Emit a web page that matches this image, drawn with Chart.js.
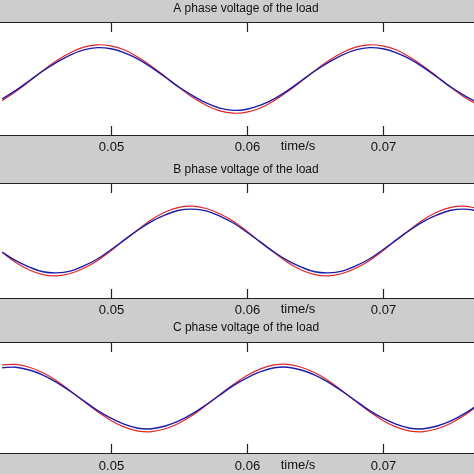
<!DOCTYPE html>
<html><head><meta charset="utf-8">
<script src="https://cdn.jsdelivr.net/npm/chart.js@4"></script>
<style>
html,body{margin:0;padding:0;background:#cdcdcd;width:474px;height:474px;overflow:hidden}
canvas{position:absolute;left:0}
</style></head><body>
<canvas id="ca" style="top:0" width="474" height="160"></canvas>
<canvas id="cb" style="top:160px" width="474" height="163"></canvas>
<canvas id="cc" style="top:318px" width="474" height="156"></canvas>
<script>
const times = [0.042,0.043,0.044,0.045,0.046,0.047,0.048,0.049,0.050,0.051,0.052,0.053,0.054,0.055,0.056,0.057,0.058,0.059,0.060,0.061,0.062,0.063,0.064,0.065,0.066,0.067,0.068,0.069,0.070,0.071,0.072,0.073,0.074,0.075,0.076,0.077];
const tickLabels = ["0.05","0.06","0.07"];
const tickValues = [0.05,0.06,0.07];
const titles = ["A phase voltage of the load","B phase voltage of the load","C phase voltage of the load"];
const aRed  = [-0.38,-0.22,-0.04,0.15,0.32,0.46,0.56,0.60,0.58,0.51,0.38,0.22,0.04,-0.15,-0.32,-0.46,-0.56,-0.60,-0.58,-0.51,-0.38,-0.22,-0.04,0.15,0.32,0.46,0.56,0.60,0.58,0.51,0.38,0.22,0.04,-0.15,-0.32,-0.46];
const aBlue = [-0.35,-0.20,-0.03,0.14,0.29,0.42,0.51,0.55,0.53,0.46,0.35,0.20,0.03,-0.14,-0.29,-0.42,-0.51,-0.55,-0.53,-0.46,-0.35,-0.20,-0.03,0.14,0.29,0.42,0.51,0.55,0.53,0.46,0.35,0.20,0.03,-0.14,-0.29,-0.42];
const bRed  = [-0.20,-0.37,-0.50,-0.58,-0.60,-0.56,-0.47,-0.34,-0.17,0.02,0.20,0.37,0.50,0.58,0.60,0.56,0.47,0.34,0.17,-0.02,-0.20,-0.37,-0.50,-0.58,-0.60,-0.56,-0.47,-0.34,-0.17,0.02,0.20,0.37,0.50,0.58,0.60,0.56];
const bBlue = [-0.19,-0.34,-0.45,-0.53,-0.55,-0.52,-0.43,-0.31,-0.15,0.02,0.19,0.34,0.45,0.53,0.55,0.52,0.43,0.31,0.15,-0.02,-0.19,-0.34,-0.45,-0.53,-0.55,-0.52,-0.43,-0.31,-0.15,0.02,0.19,0.34,0.45,0.53,0.55,0.52];
const cRed  = [0.59,0.60,0.55,0.45,0.31,0.13,-0.06,-0.24,-0.40,-0.52,-0.59,-0.60,-0.55,-0.45,-0.31,-0.13,0.06,0.24,0.40,0.52,0.59,0.60,0.55,0.45,0.31,0.13,-0.06,-0.24,-0.40,-0.52,-0.59,-0.60,-0.55,-0.45,-0.31,-0.13];
const cBlue = [0.54,0.55,0.50,0.41,0.28,0.12,-0.05,-0.22,-0.36,-0.47,-0.54,-0.55,-0.50,-0.41,-0.28,-0.12,0.05,0.22,0.36,0.47,0.54,0.55,0.50,0.41,0.28,0.12,-0.05,-0.22,-0.36,-0.47,-0.54,-0.55,-0.50,-0.41,-0.28,-0.12];

const deco = {
  id:'deco',
  beforeDraw(chart){
    const {ctx,chartArea:a}=chart;
    ctx.save();ctx.fillStyle='#fff';ctx.fillRect(a.left,a.top,a.right-a.left,a.bottom-a.top);ctx.restore();
  },
  afterDraw(chart){
    const {ctx,chartArea:a}=chart, o=chart.options.plugins.deco, xs=chart.scales.x;
    ctx.save();
    ctx.strokeStyle='#222';ctx.lineWidth=1.2;
    ctx.beginPath();ctx.moveTo(a.left,a.top+0.5);ctx.lineTo(a.right,a.top+0.5);
    ctx.moveTo(a.left,a.bottom-0.5);ctx.lineTo(a.right,a.bottom-0.5);ctx.stroke();
    ctx.fillStyle='#111';ctx.font='13px "Liberation Sans", Arial';ctx.textAlign='center';ctx.textBaseline='middle';
    tickValues.forEach((v,i)=>{
      const px=Math.round(xs.getPixelForValue(v))+0.5;
      ctx.beginPath();ctx.moveTo(px,a.top);ctx.lineTo(px,a.top+10);ctx.moveTo(px,a.bottom);ctx.lineTo(px,a.bottom-10);ctx.stroke();
      ctx.fillText(tickLabels[i],px,a.bottom+o.lab);
    });
    ctx.fillText('time/s',298,a.bottom+o.lab-1);
    ctx.font='12px "Liberation Sans", Arial';
    ctx.fillText(o.title,246,a.top+o.tit);
    ctx.restore();
  }
};
function make(id,red,blue,title,pad,lab,tit){
  const mk=(arr)=>times.map((t,i)=>({x:t,y:arr[i]}));
  new Chart(document.getElementById(id),{
    type:'line',
    data:{datasets:[
      {data:mk(blue),borderColor:'#1c1ca8',borderWidth:1.4,pointRadius:0,tension:0.4},
      {data:mk(red),borderColor:'#e0262a',borderWidth:1.2,pointRadius:0,tension:0.4}
    ]},
    options:{responsive:false,animation:false,events:[],
      layout:{padding:pad},
      scales:{x:{type:'linear',min:0.04184,max:0.0767,display:false},y:{min:-1,max:1,display:false}},
      plugins:{legend:{display:false},tooltip:{enabled:false},deco:{title,lab,tit}}},
    plugins:[deco]
  });
}
make('ca',aRed,aBlue,titles[0],{top:22,bottom:24,left:0,right:0},11,-13);
make('cb',bRed,bBlue,titles[1],{top:23,bottom:24,left:0,right:0},11,-13);
make('cc',cRed,cBlue,titles[2],{top:24,bottom:20,left:0,right:0},12,-14);
</script></body></html>
